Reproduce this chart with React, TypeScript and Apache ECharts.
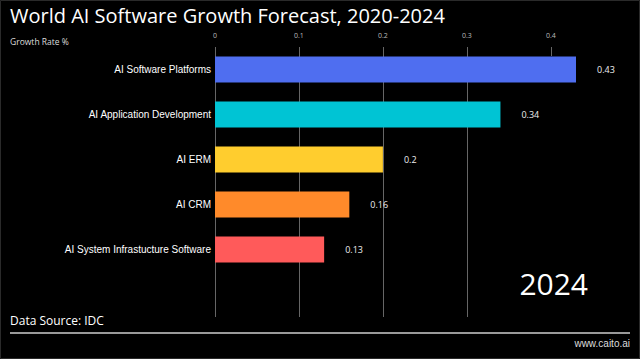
import React, { useEffect, useRef } from "react";
import * as echarts from "echarts";

const categories = [
  "AI Software Platforms",
  "AI Application Development",
  "AI ERM",
  "AI CRM",
  "AI System Infrastucture Software",
];
const values = [0.43, 0.34, 0.2, 0.16, 0.13];
const barColors = ["#4f6ef0", "#00c4d4", "#ffcd2e", "#ff8a2a", "#ff5a5a"];
const tickValues = [0, 0.1, 0.2, 0.3, 0.4];
const yearLabel = "2024";

export default function App() {
  const ref = useRef<HTMLDivElement>(null);
  useEffect(() => {
    if (!ref.current) return;
    const chart = echarts.init(ref.current, null, { renderer: "svg" });
    chart.setOption({
      animation: false,
      backgroundColor: "#000",
      grid: { left: 215, right: 64, top: 47, height: 270, containLabel: false },
      xAxis: {
        type: "value",
        position: "top",
        min: 0,
        max: 0.43,
        interval: 0.1,
        axisLine: { show: false },
        axisTick: {
          show: true,
          inside: true,
          length: 9,
          lineStyle: { color: "#666", width: 1 },
          customValues: tickValues,
        },
        axisLabel: {
          color: "#bbb",
          fontSize: 7,
          margin: 8,
          fontFamily: "Open Sans",
          customValues: tickValues,
          formatter: (v: number) => String(v),
        },
        splitLine: { show: true, showMaxLine: false, lineStyle: { color: "#666", width: 1 } },
      },
      yAxis: {
        type: "category",
        inverse: true,
        data: [...categories, ""],
        axisLine: { show: false },
        axisTick: { show: false },
        axisLabel: { color: "#fff", fontSize: 10, margin: 4, fontFamily: "Liberation Sans" },
      },
      series: [
        {
          type: "bar",
          barWidth: 26,
          data: values.map((v, i) => ({ value: v, itemStyle: { color: barColors[i] } })),
          label: {
            show: true,
            position: "right",
            distance: 21,
            color: "#eee",
            fontSize: 9,
            fontFamily: "Open Sans",
          },
        },
      ],
      graphic: [
        {
          type: "rect",
          shape: { x: 0.5, y: 0.5, width: 639, height: 358 },
          style: { fill: "none", stroke: "#2a2a2a", lineWidth: 1 },
        },
        {
          type: "text",
          left: 10,
          top: 5,
          style: {
            text: "World AI Software Growth Forecast, 2020-2024",
            fill: "#fff",
            fontSize: 20,
            fontFamily: "Open Sans",
          },
        },
        {
          type: "text",
          left: 10,
          top: 37,
          style: { text: "Growth Rate %", fill: "#ddd", fontSize: 8.5, fontFamily: "Open Sans" },
        },
        {
          type: "text",
          right: 52,
          top: 268,
          style: { text: yearLabel, fill: "#fff", fontSize: 30, fontFamily: "Open Sans" },
        },
        {
          type: "text",
          left: 10,
          top: 314,
          style: { text: "Data Source: IDC", fill: "#fff", fontSize: 12, fontFamily: "Open Sans" },
        },
        {
          type: "line",
          shape: { x1: 10, y1: 333, x2: 630, y2: 333 },
          style: { stroke: "#999", lineWidth: 2 },
        },
        {
          type: "text",
          right: 10,
          top: 338,
          style: { text: "www.caito.ai", fill: "#ddd", fontSize: 10, fontFamily: "Liberation Sans" },
        },
      ],
    });
    return () => chart.dispose();
  }, []);
  return (
    <div
      ref={ref}
      style={{ position: "fixed", left: 0, top: 0, width: 640, height: 359 }}
    />
  );
}
